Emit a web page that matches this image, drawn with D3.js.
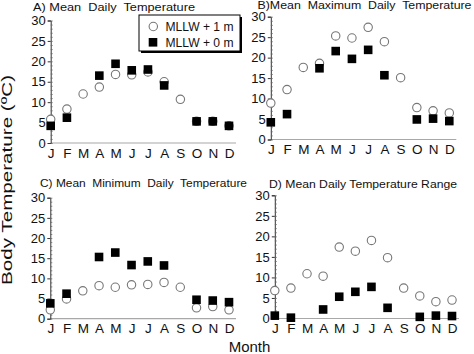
<!DOCTYPE html>
<html>
<head>
<meta charset="utf-8">
<script src="https://cdn.jsdelivr.net/npm/d3@7"></script>
<style>
html,body{margin:0;padding:0;background:#fff;}
svg{display:block;font-family:"Liberation Sans",Arial,Helvetica,sans-serif;}
</style>
</head>
<body>
<svg id="chart" width="474" height="354"></svg>
<script>
// ---- data ----
const months = ["J","F","M","A","M","J","J","A","S","O","N","D"];
const yTicks = [0,5,10,15,20,25,30];
const seriesNames = ["MLLW + 1 m","MLLW + 0 m"];
const panelTitles = [
  "A) Mean  Daily  Temperature",
  "B)Mean  Maximum  Daily  Temperature",
  "C) Mean  Minimum  Daily  Temperature",
  "D) Mean Daily Temperature Range"
];
// Mean daily
const meanPlus1 = [5.8, 8.3, 12.0, 13.7, 16.8, 16.7, 17.4, 15.0, 10.7, 5.3, 5.3, 4.2];
const meanPlus0 = [4.2, 6.2, null, 16.5, 19.4, 17.8, 18.0, 14.1, null, 5.3, 5.3, 4.2];
// Mean maximum daily
const maxPlus1  = [8.9, 12.2, 17.6, 18.6, 25.3, 24.8, 27.4, 23.9, 15.1, 7.8, 7.0, 6.5];
const maxPlus0  = [4.2, 6.2, null, 17.4, 21.6, 19.7, 21.9, 15.7, null, 4.9, 5.1, 4.5];
// Mean minimum daily
const minPlus1  = [2.2, 4.9, 6.9, 8.2, 7.8, 8.4, 8.5, 9.0, 7.8, 2.7, 3.0, 2.2];
const minPlus0  = [3.8, 6.2, null, 15.3, 16.4, 13.3, 14.2, 13.2, null, 4.7, 4.5, 4.1];
// Mean daily range
const rngPlus1  = [6.8, 7.4, 10.9, 10.3, 17.4, 16.4, 19.0, 14.8, 7.4, 5.5, 4.1, 4.5];
const rngPlus0  = [0.7, 0.2, null, 2.2, 5.3, 6.5, 7.7, 2.6, null, 0.4, 0.7, 0.6];

// ---- layout ----
const layout = [
  {x0:50.7, x1:229.0, y0:143.0, y30:20.5, tx:33,  ty:11,  tw:162},
  {x0:270.8,x1:449.3, y0:139.5, y30:16.7, tx:257.5,ty:8.8, tw:214},
  {x0:50.3, x1:229.0, y0:318.7, y30:197.7,tx:40,  ty:187.3, tw:207},
  {x0:274.8,x1:452.0, y0:318.5, y30:195.3,tx:269, ty:188, tw:188}
];
const panelData = [
  [meanPlus1, meanPlus0],
  [maxPlus1, maxPlus0],
  [minPlus1, minPlus0],
  [rngPlus1, rngPlus0]
];

const svg = d3.select("#chart");

panelData.forEach((pd, i) => {
  const L = layout[i];
  const g = svg.append("g");
  const x = d3.scalePoint().domain(d3.range(months.length)).range([L.x0, L.x1]);
  const y = d3.scaleLinear().domain([0,30]).range([L.y0, L.y30]);

  // x axis line (light)
  g.append("line")
    .attr("x1", L.x0).attr("x2", L.x1 + 7)
    .attr("y1", L.y0).attr("y2", L.y0)
    .attr("stroke", "#a8a8a8").attr("stroke-width", 1.2);

  // y axis
  const yAxis = d3.axisLeft(y).tickValues(yTicks).tickSize(3).tickPadding(2).tickFormat(d3.format("d"));
  const ya = g.append("g").attr("transform", `translate(${L.x0},0)`).call(yAxis);
  ya.select(".domain").attr("stroke", "#333").attr("stroke-width", 1);
  ya.selectAll(".tick line").attr("stroke", "#333");
  ya.selectAll(".tick text").attr("font-size", 13).attr("fill", "#111")
    .attr("font-family", "'Liberation Sans',Arial,sans-serif");
  // minor ticks
  const minorAxis = d3.axisRight(y).tickValues(d3.range(0,31,1)).tickSize(2).tickFormat("");
  const ma = g.append("g").attr("transform", `translate(${L.x0},0)`).call(minorAxis);
  ma.select(".domain").remove();
  ma.selectAll(".tick line").attr("stroke", "#666").attr("stroke-width", 0.8);

  // x axis labels
  const xAxis = d3.axisBottom(x).tickSize(0).tickPadding(5).tickFormat(d => months[d]);
  const xa = g.append("g").attr("transform", `translate(0,${L.y0})`).call(xAxis);
  xa.select(".domain").remove();
  xa.selectAll(".tick text").attr("font-size", 13.5).attr("fill", "#111")
    .attr("font-family", "'Liberation Sans',Arial,sans-serif");

  // title
  g.append("text").attr("x", L.tx).attr("y", L.ty)
    .attr("font-size", 11.5).attr("fill", "#111")
    .attr("textLength", L.tw).attr("lengthAdjust", "spacingAndGlyphs")
    .style("white-space", "pre")
    .text(panelTitles[i]);

  // circles (+1 m)
  g.selectAll("circle.p1").data(pd[0].map((v,k)=>({v,k})).filter(d=>d.v!=null))
    .join("circle").attr("class","p1")
    .attr("cx", d => x(d.k)).attr("cy", d => y(d.v)).attr("r", 4.2)
    .attr("fill", "#fff").attr("stroke", "#777").attr("stroke-width", 1.1);

  // squares (+0 m)
  const s = 8.6;
  g.selectAll("rect.p0").data(pd[1].map((v,k)=>({v,k})).filter(d=>d.v!=null))
    .join("rect").attr("class","p0")
    .attr("x", d => x(d.k) - s/2).attr("y", d => y(d.v) - s/2)
    .attr("width", s).attr("height", s).attr("fill", "#000");
});

// legend
const lg = svg.append("g");
lg.append("rect").attr("x", 141).attr("y", 17).attr("width", 101).attr("height", 36).attr("fill", "#000");
lg.append("rect").attr("x", 139).attr("y", 15).attr("width", 101).attr("height", 36)
  .attr("fill", "#fff").attr("stroke", "#000").attr("stroke-width", 1);
lg.append("circle").attr("cx", 153.3).attr("cy", 26.5).attr("r", 4.2)
  .attr("fill", "#fff").attr("stroke", "#777").attr("stroke-width", 1.1);
lg.append("rect").attr("x", 153 - 4.3).attr("y", 42.3 - 4.3).attr("width", 8.6).attr("height", 8.6).attr("fill", "#000");
seriesNames.forEach((n, i) => {
  lg.append("text").attr("x", 165.5).attr("y", 31 + i*15.5)
    .attr("font-size", 12).attr("fill", "#111")
    .attr("textLength", 68).attr("lengthAdjust", "spacingAndGlyphs")
    .text(n);
});

// axis titles
svg.append("text").attr("transform", "translate(12,180) rotate(-90)")
  .attr("text-anchor", "middle").attr("font-size", 14.5).attr("fill", "#111")
  .attr("textLength", 210).attr("lengthAdjust", "spacingAndGlyphs")
  .text("Body Temperature (ºC)");
svg.append("text").attr("x", 249.5).attr("y", 351.5)
  .attr("text-anchor", "middle").attr("font-size", 15).attr("fill", "#111")
  .text("Month");
</script>
</body>
</html>
